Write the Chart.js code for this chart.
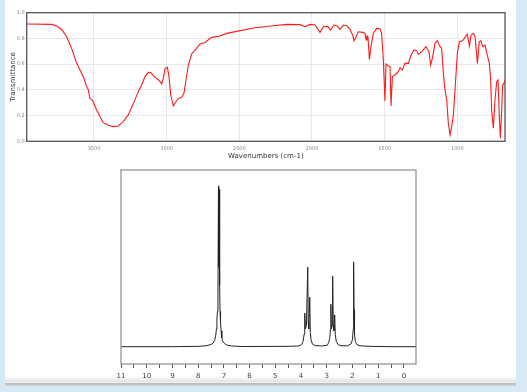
<!DOCTYPE html>
<html>
<head>
<meta charset="utf-8">
<script src="https://cdn.jsdelivr.net/npm/chart.js@4"></script>
<style>
  html, body { margin: 0; padding: 0; }
  body { width: 527px; height: 392px; overflow: hidden; background: #d7e9f4; position: relative; font-family: "DejaVu Sans", sans-serif; }
  #panel { position: absolute; left: 5px; top: 0; width: 511px; height: 383px; background: #fff;
           background-image: linear-gradient(to bottom, #fff 0, #fff 376px, #e2e2e2 382px, #fff 383px); }
  #edge { position: absolute; left: 5px; top: 383px; width: 511px; height: 3px; background: linear-gradient(to bottom, #b8b8b8, #d0d6da); }
  canvas { position: absolute; }
  #ir { left: 5px; top: 0; }
  #nmr { left: 110px; top: 160px; }
</style>
</head>
<body>
<div id="panel"></div>
<div id="edge"></div>
<canvas id="ir" width="511" height="165"></canvas>
<canvas id="nmr" width="320" height="222"></canvas>
<script>
// IR spectrum
const irWavenumber = [
  3963, 3791, 3757, 3722, 3688, 3654, 3619, 3596, 3569, 3555, 3539, 3528, 3509, 3482, 3459, 3436,
  3401, 3367, 3333, 3298, 3264, 3229, 3195, 3172, 3149, 3126, 3110, 3080, 3050, 3034, 3023, 3011,
  2995, 2984, 2972, 2954, 2936, 2920, 2897, 2881, 2867, 2851, 2828, 2794, 2771, 2736, 2690, 2633,
  2587, 2518, 2404, 2266, 2174, 2083, 2048, 2014, 1979, 1945, 1922, 1892, 1872, 1849, 1826, 1807,
  1784, 1761, 1739, 1720, 1711, 1700, 1681, 1651, 1635, 1628, 1622, 1615, 1605, 1594, 1578, 1555,
  1532, 1521, 1509, 1498, 1491, 1475, 1463, 1456, 1447, 1429, 1406, 1394, 1378, 1360, 1337, 1321,
  1298, 1280, 1268, 1245, 1216, 1195, 1184, 1170, 1154, 1138, 1119, 1108, 1096, 1085, 1073, 1062,
  1050, 1039, 1027, 1016, 1000, 986, 963, 947, 931, 917, 906, 890, 878, 862, 849, 837,
  826, 810, 794, 780, 771, 764, 752, 741, 729, 720, 711, 704, 695, 688, 677, 672
];
const irTransmittance = [
  0.912, 0.909, 0.896, 0.870, 0.813, 0.723, 0.606, 0.554, 0.490, 0.438, 0.400, 0.334, 0.316, 0.244, 0.192, 0.145,
  0.124, 0.114, 0.119, 0.153, 0.205, 0.295, 0.386, 0.438, 0.503, 0.536, 0.534, 0.497, 0.472, 0.446, 0.490, 0.567,
  0.575, 0.503, 0.360, 0.275, 0.308, 0.334, 0.342, 0.373, 0.477, 0.593, 0.679, 0.723, 0.756, 0.769, 0.808, 0.819,
  0.839, 0.855, 0.881, 0.899, 0.909, 0.907, 0.891, 0.909, 0.904, 0.847, 0.891, 0.894, 0.865, 0.904, 0.896, 0.870,
  0.904, 0.899, 0.870, 0.826, 0.782, 0.808, 0.852, 0.847, 0.839, 0.788, 0.819, 0.813, 0.637, 0.736, 0.839, 0.878,
  0.876, 0.839, 0.632, 0.313, 0.601, 0.585, 0.580, 0.275, 0.503, 0.516, 0.541, 0.573, 0.554, 0.606, 0.606, 0.663,
  0.710, 0.705, 0.676, 0.697, 0.736, 0.697, 0.593, 0.653, 0.762, 0.782, 0.736, 0.723, 0.528, 0.400, 0.321, 0.140,
  0.049, 0.114, 0.205, 0.400, 0.684, 0.775, 0.782, 0.808, 0.834, 0.741, 0.826, 0.839, 0.813, 0.606, 0.775, 0.782,
  0.736, 0.749, 0.671, 0.606, 0.490, 0.244, 0.101, 0.321, 0.464, 0.477, 0.192, 0.023, 0.244, 0.438, 0.456, 0.477
];
const irXTicks = [1000, 1500, 2000, 2500, 3000, 3500];
const irYTicks = [0, 0.2, 0.4, 0.6, 0.8, 1.0];

// 1H NMR spectrum
const nmrShift = [
  11.0, 9.0, 8.0, 7.7, 7.5, 7.42, 7.36, 7.32, 7.29, 7.27, 7.25, 7.23, 7.21, 7.20, 7.18, 7.165,
  7.15, 7.13, 7.11, 7.08, 7.04, 6.98, 6.9, 6.7, 6.3, 4.5,
  4.1, 3.98, 3.92, 3.88, 3.855, 3.83, 3.79, 3.74, 3.72, 3.70, 3.66, 3.64, 3.61, 3.56, 3.45,
  3.2, 2.98, 2.92, 2.88, 2.855, 2.84, 2.82, 2.79, 2.77, 2.75, 2.72, 2.69, 2.67, 2.63, 2.56, 2.45,
  2.2, 2.06, 2.0, 1.97, 1.955, 1.94, 1.92, 1.89, 1.83, 1.7, 1.3, 0.5, -0.47
];
const nmrIntensity = [
  0.0, 0.0, 0.002, 0.005, 0.012, 0.02, 0.035, 0.06, 0.10, 0.16, 0.20, 0.30, 0.91, 0.45, 0.89, 0.35,
  0.20, 0.14, 0.09, 0.05, 0.03, 0.018, 0.01, 0.004, 0.001, 0.002,
  0.004, 0.012, 0.03, 0.07, 0.19, 0.10, 0.12, 0.45, 0.14, 0.10, 0.28, 0.08, 0.04, 0.015, 0.006,
  0.004, 0.008, 0.025, 0.05, 0.10, 0.24, 0.10, 0.12, 0.40, 0.12, 0.09, 0.18, 0.07, 0.03, 0.012, 0.005,
  0.005, 0.015, 0.04, 0.10, 0.48, 0.21, 0.07, 0.03, 0.012, 0.005, 0.002, 0.0, 0.0
];
const nmrTicks = [0, 1, 2, 3, 4, 5, 6, 7, 8, 9, 10, 11];

const framePlugin = {
  id: 'frame',
  afterDraw(chart, args, opts) {
    const a = chart.chartArea;
    const ctx = chart.ctx;
    ctx.save();
    ctx.strokeStyle = opts.color;
    ctx.lineWidth = opts.width;
    ctx.strokeRect(a.left, a.top, a.right - a.left, a.bottom - a.top);
    ctx.restore();
  }
};

const irChart = new Chart(document.getElementById('ir').getContext('2d'), {
  type: 'line',
  data: {
    datasets: [{
      data: irWavenumber.map((w, i) => ({ x: w, y: irTransmittance[i] })),
      borderColor: '#ff1a1a',
      borderWidth: 1.1,
      pointRadius: 0,
      tension: 0,
      fill: false
    }]
  },
  options: {
    responsive: false,
    animation: false,
    devicePixelRatio: 1,
    layout: { padding: { left: 0, right: 11, top: 12.7, bottom: 0 } },
    plugins: {
      legend: { display: false },
      tooltip: { enabled: false },
      frame: { color: '#555', width: 1.3 }
    },
    scales: {
      x: {
        type: 'linear',
        reverse: true,
        min: 672,
        max: 3963,
        afterBuildTicks: s => { s.ticks = irXTicks.map(v => ({ value: v })); },
        afterFit: s => { s.height = 23.7; },
        grid: { color: '#e8e8e8', drawTicks: false },
        border: { display: false },
        ticks: {
          autoSkip: false, maxRotation: 0, padding: 4,
          color: '#8a8a8a', font: { family: 'DejaVu Sans', size: 5 },
          callback: v => String(v)
        },
        title: {
          display: true, text: 'Wavenumbers (cm-1)', color: '#333',
          font: { family: 'DejaVu Sans', size: 7 }, padding: { top: 0, bottom: 4.8 }
        }
      },
      y: {
        min: 0,
        max: 1,
        afterBuildTicks: s => { s.ticks = irYTicks.map(v => ({ value: v })); },
        afterFit: s => { s.width = 21.7; },
        grid: { color: '#e8e8e8', drawTicks: false },
        border: { display: false },
        ticks: {
          padding: 2, color: '#8a8a8a', font: { family: 'DejaVu Sans', size: 5 },
          callback: v => v.toFixed(1)
        },
        title: {
          display: true, text: 'Transmittance', color: '#333',
          font: { family: 'DejaVu Sans', size: 7 }, padding: { top: 3.5, bottom: 0 }
        }
      }
    }
  },
  plugins: [framePlugin]
});

const nmrChart = new Chart(document.getElementById('nmr').getContext('2d'), {
  type: 'line',
  data: {
    datasets: [{
      data: nmrShift.map((d, i) => ({ x: d, y: nmrIntensity[i] })),
      borderColor: '#222',
      borderWidth: 1,
      pointRadius: 0,
      tension: 0,
      fill: false
    }]
  },
  options: {
    responsive: false,
    animation: false,
    devicePixelRatio: 1,
    layout: { padding: { left: 11, right: 14, top: 10, bottom: 0 } },
    plugins: {
      legend: { display: false },
      tooltip: { enabled: false },
      frame: { color: '#8c8c8c', width: 1.2 }
    },
    scales: {
      x: {
        type: 'linear',
        reverse: true,
        min: -0.47,
        max: 11,
        afterBuildTicks: s => {
          const t = [];
          nmrTicks.forEach(v => { t.push({ value: v }); if (v < 11) t.push({ value: v + 0.5 }); });
          s.ticks = t;
        },
        afterFit: s => { s.height = 18; },
        grid: { drawOnChartArea: false, drawTicks: true, tickLength: 4, color: '#555' },
        border: { display: false },
        ticks: {
          autoSkip: false, maxRotation: 0, padding: 4,
          color: '#444', font: { family: 'DejaVu Sans', size: 7 },
          callback: v => Number.isInteger(v) ? String(v) : ''
        }
      },
      y: { display: false, min: -0.098, max: 1 }
    }
  },
  plugins: [framePlugin]
});
</script>
</body>
</html>
